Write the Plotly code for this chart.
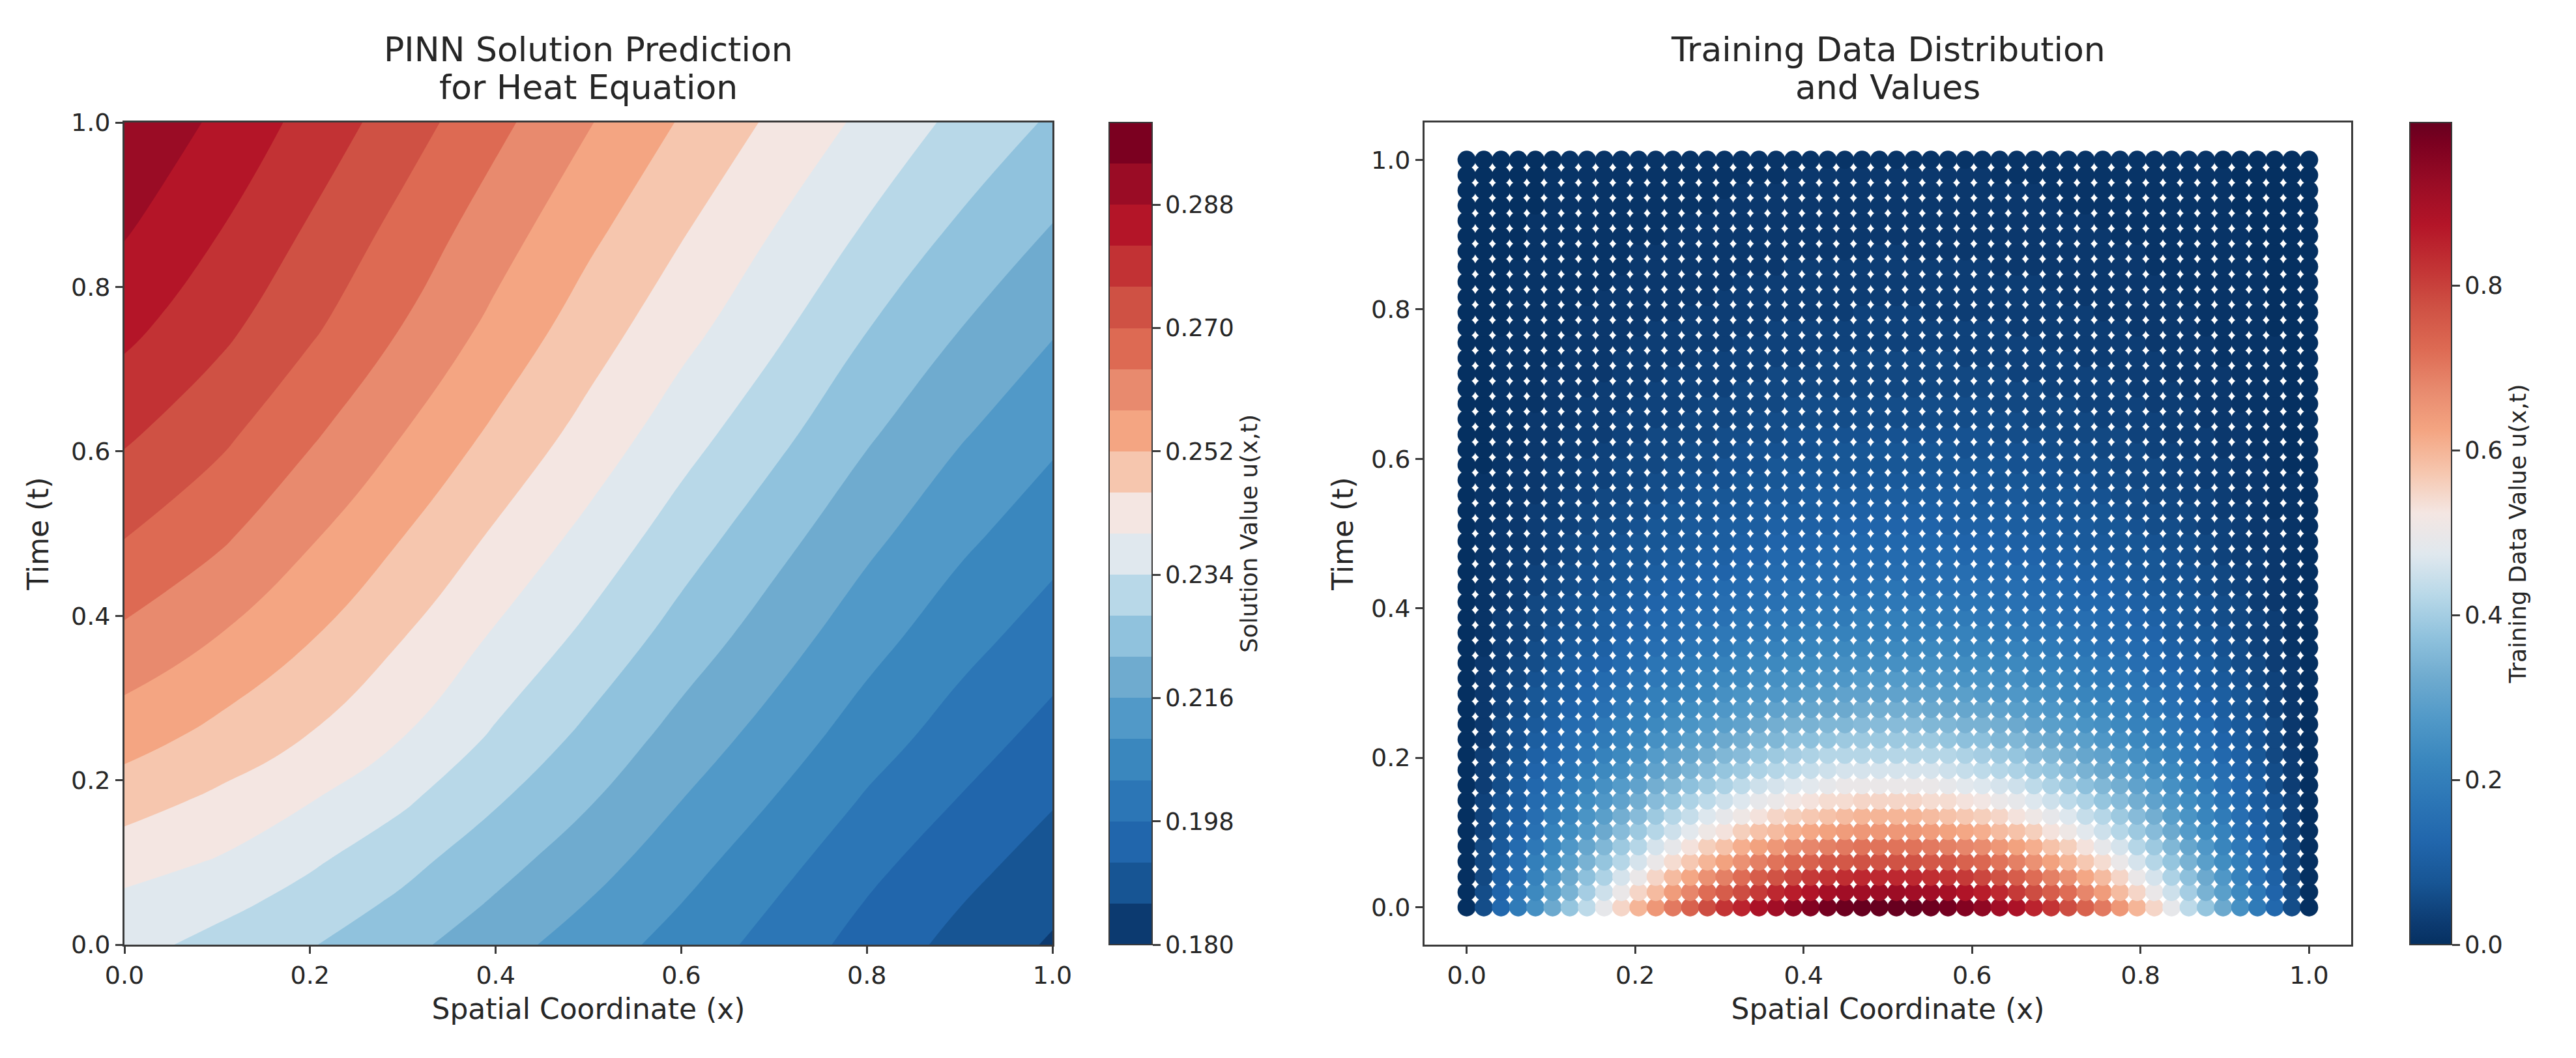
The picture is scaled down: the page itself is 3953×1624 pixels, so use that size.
import plotly.graph_objects as go

# all values below

# left panel: predicted u(x,t), rows are time, columns are x
x_pred = [0.0, 0.1, 0.2, 0.3, 0.4, 0.5, 0.6, 0.7, 0.8, 0.9, 1.0]
t_pred = [0.0, 0.05, 0.1, 0.175, 0.25, 0.375, 0.5, 0.625, 0.75, 0.875, 1.0]
u_pred = [
    [0.2362, 0.2321, 0.2284, 0.2237, 0.2184, 0.2131, 0.2077, 0.2018, 0.1957, 0.1902, 0.1853],
    [0.2385, 0.2358, 0.2316, 0.2268, 0.2213, 0.2158, 0.2100, 0.2039, 0.1977, 0.1922, 0.1873],
    [0.2425, 0.2395, 0.2348, 0.2298, 0.2241, 0.2185, 0.2124, 0.2062, 0.1998, 0.1943, 0.1893],
    [0.2485, 0.2448, 0.2402, 0.2349, 0.2286, 0.2225, 0.2160, 0.2098, 0.2033, 0.1977, 0.1925],
    [0.2544, 0.2501, 0.2456, 0.2399, 0.2330, 0.2264, 0.2196, 0.2134, 0.2068, 0.2011, 0.1957],
    [0.2628, 0.2580, 0.2524, 0.2462, 0.2393, 0.2326, 0.2256, 0.2190, 0.2124, 0.2063, 0.2012],
    [0.2704, 0.2654, 0.2589, 0.2522, 0.2453, 0.2384, 0.2312, 0.2244, 0.2177, 0.2116, 0.2063],
    [0.2772, 0.2718, 0.2651, 0.2582, 0.2510, 0.2441, 0.2368, 0.2300, 0.2230, 0.2168, 0.2115],
    [0.2836, 0.2778, 0.2710, 0.2638, 0.2564, 0.2490, 0.2421, 0.2354, 0.2282, 0.2221, 0.2166],
    [0.2888, 0.2825, 0.2755, 0.2683, 0.2610, 0.2537, 0.2468, 0.2401, 0.2336, 0.2273, 0.2219],
    [0.2935, 0.2869, 0.2800, 0.2729, 0.2656, 0.2584, 0.2515, 0.2449, 0.2386, 0.2325, 0.2272],
]

# right panel: 50 x 50 training grid, u in percent, rows go up in time.
# only the left half of each row is kept, the picture mirrors around x=0.5
train_half = [
    [0, 6, 13, 19, 25, 32, 38, 43, 49, 55, 60, 65, 70, 74, 78, 82, 85, 89, 91, 94, 96, 98, 99, 100, 100],
    [0, 6, 12, 18, 23, 29, 34, 40, 45, 50, 55, 59, 64, 68, 72, 75, 78, 81, 84, 86, 88, 90, 91, 91, 92],
    [0, 5, 11, 16, 21, 27, 32, 37, 41, 46, 50, 55, 59, 62, 66, 69, 72, 75, 77, 79, 81, 82, 83, 84, 84],
    [0, 5, 10, 15, 20, 24, 29, 34, 38, 42, 46, 50, 54, 57, 60, 63, 66, 69, 71, 73, 74, 76, 76, 77, 77],
    [0, 5, 9, 14, 18, 22, 27, 31, 35, 39, 42, 46, 49, 53, 56, 58, 61, 63, 65, 67, 68, 69, 70, 71, 71],
    [0, 4, 8, 12, 16, 21, 24, 28, 32, 36, 39, 42, 45, 48, 51, 53, 56, 58, 59, 61, 62, 63, 64, 65, 65],
    [0, 4, 8, 11, 15, 19, 22, 26, 29, 33, 36, 39, 42, 44, 47, 49, 51, 53, 55, 56, 57, 58, 59, 60, 60],
    [0, 4, 7, 10, 14, 17, 21, 24, 27, 30, 33, 36, 38, 41, 43, 45, 47, 49, 50, 52, 53, 54, 54, 55, 55],
    [0, 3, 6, 10, 13, 16, 19, 22, 25, 28, 30, 33, 35, 37, 39, 41, 43, 45, 46, 47, 48, 49, 50, 50, 50],
    [0, 3, 6, 9, 12, 15, 17, 20, 23, 25, 28, 30, 32, 34, 36, 38, 39, 41, 42, 43, 44, 45, 46, 46, 46],
    [0, 3, 5, 8, 11, 13, 16, 18, 21, 23, 25, 28, 30, 31, 33, 35, 36, 38, 39, 40, 41, 42, 42, 42, 42],
    [0, 2, 5, 7, 10, 12, 15, 17, 19, 21, 23, 25, 27, 29, 30, 32, 33, 35, 35, 37, 37, 38, 39, 39, 39],
    [0, 2, 5, 7, 9, 11, 14, 15, 18, 20, 21, 23, 25, 26, 28, 29, 30, 32, 33, 34, 34, 35, 35, 36, 36],
    [0, 2, 4, 6, 8, 10, 12, 14, 16, 18, 20, 21, 23, 24, 26, 27, 28, 29, 30, 31, 31, 32, 32, 33, 33],
    [0, 2, 4, 6, 8, 10, 11, 13, 15, 17, 18, 20, 21, 22, 23, 25, 26, 27, 27, 28, 29, 29, 30, 30, 30],
    [0, 2, 4, 5, 7, 9, 10, 12, 14, 15, 17, 18, 19, 20, 22, 23, 23, 25, 25, 26, 26, 27, 27, 28, 28],
    [0, 2, 3, 5, 6, 8, 10, 11, 12, 14, 15, 17, 18, 19, 20, 21, 22, 23, 23, 24, 24, 25, 25, 25, 25],
    [0, 1, 3, 4, 6, 7, 9, 10, 11, 13, 14, 15, 16, 17, 18, 19, 20, 21, 21, 22, 22, 23, 23, 23, 23],
    [0, 1, 3, 4, 5, 7, 8, 9, 10, 12, 13, 14, 15, 16, 17, 18, 18, 19, 19, 20, 21, 21, 21, 21, 21],
    [0, 1, 3, 4, 5, 6, 7, 8, 10, 11, 12, 13, 14, 15, 15, 16, 17, 17, 18, 18, 19, 19, 19, 20, 20],
    [0, 1, 2, 3, 5, 6, 7, 8, 9, 10, 11, 12, 13, 13, 14, 15, 15, 16, 16, 17, 17, 18, 18, 18, 18],
    [0, 1, 2, 3, 4, 5, 6, 7, 8, 9, 10, 11, 12, 12, 13, 14, 14, 15, 15, 16, 16, 16, 16, 16, 17],
    [0, 1, 2, 3, 4, 5, 6, 7, 7, 8, 9, 10, 11, 11, 12, 12, 13, 14, 14, 14, 15, 15, 15, 15, 15],
    [0, 1, 2, 3, 3, 4, 5, 6, 7, 8, 8, 9, 10, 10, 11, 11, 12, 12, 13, 13, 13, 14, 14, 14, 14],
    [0, 1, 2, 2, 3, 4, 5, 6, 6, 7, 8, 8, 9, 9, 10, 10, 11, 11, 12, 12, 12, 13, 13, 13, 13],
    [0, 1, 2, 2, 3, 4, 4, 5, 6, 6, 7, 8, 8, 9, 9, 10, 10, 10, 11, 11, 11, 11, 12, 12, 12],
    [0, 1, 1, 2, 3, 3, 4, 5, 5, 6, 6, 7, 8, 8, 8, 9, 9, 10, 10, 10, 10, 11, 11, 11, 11],
    [0, 1, 1, 2, 2, 3, 4, 4, 5, 5, 6, 6, 7, 7, 8, 8, 8, 9, 9, 9, 10, 10, 10, 10, 10],
    [0, 1, 1, 2, 2, 3, 3, 4, 4, 5, 5, 6, 6, 7, 7, 7, 8, 8, 8, 9, 9, 9, 9, 9, 9],
    [0, 0, 1, 2, 2, 3, 3, 4, 4, 5, 5, 5, 6, 6, 6, 7, 7, 7, 8, 8, 8, 8, 8, 8, 8],
    [0, 0, 1, 1, 2, 2, 3, 3, 4, 4, 5, 5, 5, 6, 6, 6, 7, 7, 7, 7, 7, 8, 8, 8, 8],
    [0, 0, 1, 1, 2, 2, 3, 3, 3, 4, 4, 5, 5, 5, 5, 6, 6, 6, 6, 7, 7, 7, 7, 7, 7],
    [0, 0, 1, 1, 2, 2, 2, 3, 3, 4, 4, 4, 4, 5, 5, 5, 5, 6, 6, 6, 6, 6, 6, 6, 6],
    [0, 0, 1, 1, 1, 2, 2, 3, 3, 3, 4, 4, 4, 4, 5, 5, 5, 5, 5, 6, 6, 6, 6, 6, 6],
    [0, 0, 1, 1, 1, 2, 2, 2, 3, 3, 3, 4, 4, 4, 4, 4, 5, 5, 5, 5, 5, 5, 5, 5, 5],
    [0, 0, 1, 1, 1, 2, 2, 2, 2, 3, 3, 3, 4, 4, 4, 4, 4, 4, 5, 5, 5, 5, 5, 5, 5],
    [0, 0, 1, 1, 1, 1, 2, 2, 2, 3, 3, 3, 3, 3, 4, 4, 4, 4, 4, 4, 4, 5, 5, 5, 5],
    [0, 0, 1, 1, 1, 1, 2, 2, 2, 2, 3, 3, 3, 3, 3, 3, 4, 4, 4, 4, 4, 4, 4, 4, 4],
    [0, 0, 0, 1, 1, 1, 1, 2, 2, 2, 2, 3, 3, 3, 3, 3, 3, 3, 4, 4, 4, 4, 4, 4, 4],
    [0, 0, 0, 1, 1, 1, 1, 2, 2, 2, 2, 2, 2, 3, 3, 3, 3, 3, 3, 3, 3, 3, 3, 4, 4],
    [0, 0, 0, 1, 1, 1, 1, 1, 2, 2, 2, 2, 2, 2, 2, 3, 3, 3, 3, 3, 3, 3, 3, 3, 3],
    [0, 0, 0, 1, 1, 1, 1, 1, 1, 2, 2, 2, 2, 2, 2, 2, 3, 3, 3, 3, 3, 3, 3, 3, 3],
    [0, 0, 0, 1, 1, 1, 1, 1, 1, 1, 2, 2, 2, 2, 2, 2, 2, 2, 2, 3, 3, 3, 3, 3, 3],
    [0, 0, 0, 0, 1, 1, 1, 1, 1, 1, 2, 2, 2, 2, 2, 2, 2, 2, 2, 2, 2, 2, 2, 2, 3],
    [0, 0, 0, 0, 1, 1, 1, 1, 1, 1, 1, 1, 2, 2, 2, 2, 2, 2, 2, 2, 2, 2, 2, 2, 2],
    [0, 0, 0, 0, 1, 1, 1, 1, 1, 1, 1, 1, 1, 2, 2, 2, 2, 2, 2, 2, 2, 2, 2, 2, 2],
    [0, 0, 0, 0, 0, 1, 1, 1, 1, 1, 1, 1, 1, 1, 1, 2, 2, 2, 2, 2, 2, 2, 2, 2, 2],
    [0, 0, 0, 0, 0, 1, 1, 1, 1, 1, 1, 1, 1, 1, 1, 1, 2, 2, 2, 2, 2, 2, 2, 2, 2],
    [0, 0, 0, 0, 0, 1, 1, 1, 1, 1, 1, 1, 1, 1, 1, 1, 1, 1, 1, 2, 2, 2, 2, 2, 2],
    [0, 0, 0, 0, 0, 0, 1, 1, 1, 1, 1, 1, 1, 1, 1, 1, 1, 1, 1, 1, 1, 1, 1, 1, 1],
]

# colours of the 20 contour bands, bottom to top
band_colors = [
    "#0c3a70", "#175594", "#2166ac", "#2c76b6", "#3a87be",
    "#5199c8", "#6fabcf", "#90c2dd", "#b8d8e8", "#e0e8ee",
    "#f4e6e2", "#f6c6ae", "#f4a582", "#e88a6e", "#dd6a53",
    "#cf5144", "#c23234", "#b41528", "#9a0c25", "#7b0020",
]

W, H = 3953, 1624
# the page body has an 8px margin
BODY = 8
TEXT = "#262626"
LINE = "#3a3a3a"
FONT = "DejaVu Sans"


def px_x(p):
    return (p - BODY) / W


def px_y(p):
    return 1 - (p - BODY) / H


# plotly colours each contour band at (i + 1) / (n_levels) of the scale
n_levels = len(band_colors) + 1
pred_scale = [[0, band_colors[0]]]
for i, c in enumerate(band_colors):
    pred_scale.append([(i + 1) / n_levels, c])
pred_scale.append([1, band_colors[-1]])

# stepped scale for the left colorbar, which runs exactly from 0.18 to 0.30
bar_scale = []
for i, c in enumerate(band_colors):
    bar_scale.append([i / 20, c])
    bar_scale.append([(i + 1) / 20, c])

# the scatter uses the same map, one stop in the middle of each band
train_scale = [[0, "#053061"]]
for i, c in enumerate(band_colors):
    train_scale.append([(i + 0.5) / 20, c])
train_scale.append([1, "#67001f"])

x_train = []
t_train = []
u_train = []
for j, row in enumerate(train_half):
    full = row + row[::-1]
    for i, v in enumerate(full):
        x_train.append(i / 49)
        t_train.append(j / 49)
        u_train.append(v / 100)


def colorbar(left, thickness, title, **ticks):
    return dict(
        x=px_x(left),
        xanchor="left",
        xpad=0,
        ypad=0,
        y=px_y(1450),
        yanchor="bottom",
        len=1262 / H,
        lenmode="fraction",
        thickness=thickness,
        thicknessmode="pixels",
        outlinecolor=LINE,
        outlinewidth=2,
        ticks="outside",
        ticklen=12,
        tickwidth=3,
        tickcolor=LINE,
        tickfont=dict(family=FONT, size=37, color=TEXT),
        title=dict(text=title, side="right", font=dict(family=FONT, size=36, color=TEXT)),
        **ticks,
    )


fig = go.Figure()
fig.add_trace(
    go.Contour(
        x=x_pred,
        y=t_pred,
        z=u_pred,
        autocontour=False,
        contours=dict(start=0.18, end=0.30, size=0.006, coloring="fill", showlines=False),
        line=dict(width=0, smoothing=1.3),
        colorscale=pred_scale,
        showscale=False,
        xaxis="x",
        yaxis="y",
    )
)
# empty trace that only carries the left colorbar
fig.add_trace(
    go.Scatter(
        x=[None],
        y=[None],
        mode="markers",
        marker=dict(
            color=[0.18],
            cmin=0.18,
            cmax=0.30,
            colorscale=bar_scale,
            colorbar=colorbar(
                1702, 66, "Solution Value u(x,t)", tick0=0.18, dtick=0.018, tickformat=".3f"
            ),
        ),
        xaxis="x",
        yaxis="y",
        showlegend=False,
    )
)
fig.add_trace(
    go.Scatter(
        x=x_train,
        y=t_train,
        mode="markers",
        marker=dict(
            size=28,
            color=u_train,
            cmin=0,
            cmax=0.998,
            colorscale=train_scale,
            line=dict(width=0),
            colorbar=colorbar(
                3698, 64, "Training Data Value u(x,t)", tick0=0, dtick=0.2, tickformat=".1f"
            ),
        ),
        xaxis="x2",
        yaxis="y2",
        showlegend=False,
    )
)

axis_style = dict(
    showgrid=False,
    zeroline=False,
    showline=True,
    mirror=True,
    linecolor=LINE,
    linewidth=3,
    ticks="outside",
    ticklen=11,
    tickwidth=3,
    tickcolor=LINE,
    dtick=0.2,
    tick0=0,
    tickformat=".1f",
    tickfont=dict(family=FONT, size=38, color=TEXT),
    automargin=False,
)


def x_title(text):
    return dict(text=text, font=dict(family=FONT, size=44, color=TEXT), standoff=16)


def y_title(text, standoff):
    return dict(text=text, font=dict(family=FONT, size=44, color=TEXT), standoff=standoff)


def title_line(text, center, middle):
    return dict(
        text=text,
        xref="paper",
        yref="paper",
        x=px_x(center),
        y=px_y(middle),
        xanchor="center",
        yanchor="middle",
        showarrow=False,
        font=dict(family=FONT, size=52, color=TEXT),
    )


fig.update_layout(
    width=W,
    height=H,
    autosize=False,
    margin=dict(l=0, r=0, t=0, b=0),
    paper_bgcolor="white",
    plot_bgcolor="white",
    xaxis=dict(
        domain=[px_x(191), px_x(1615)],
        range=[0, 1],
        title=x_title("Spatial Coordinate (x)"),
        **axis_style,
    ),
    yaxis=dict(
        domain=[px_y(1450), px_y(188)],
        range=[0, 1],
        title=y_title("Time (t)", 21),
        **axis_style,
    ),
    xaxis2=dict(
        domain=[px_x(2186), px_x(3608)],
        range=[-0.05, 1.05],
        anchor="y2",
        title=x_title("Spatial Coordinate (x)"),
        **axis_style,
    ),
    yaxis2=dict(
        domain=[px_y(1450), px_y(188)],
        range=[-0.05, 1.05],
        anchor="x2",
        title=y_title("Time (t)", 14),
        **axis_style,
    ),
    annotations=[
        title_line("PINN Solution Prediction", 903, 76),
        title_line("for Heat Equation", 903, 134),
        title_line("Training Data Distribution", 2897, 76),
        title_line("and Values", 2897, 134),
    ],
)

fig.write_html("out.html")
